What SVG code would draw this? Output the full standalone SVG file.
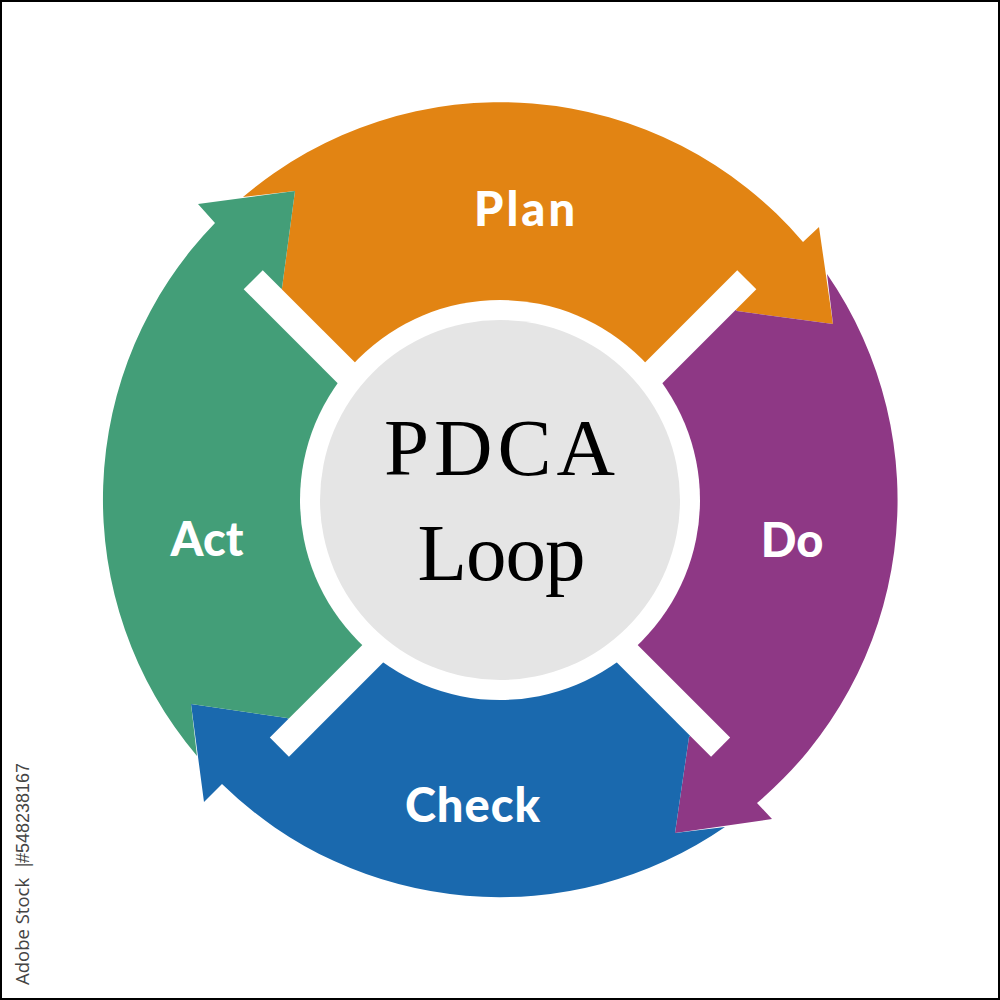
<svg xmlns="http://www.w3.org/2000/svg" width="1000" height="1000" viewBox="0 0 1000 1000">
<style>
.lab{font-family:"Lato","Noto Sans",sans-serif;font-weight:900;font-size:47px;fill:#fff;text-anchor:middle}
.core{font-family:"Liberation Serif","Times New Roman",serif;font-size:81px;fill:#000;text-anchor:middle}
.bar{fill:#fff}
</style>
<rect x="1" y="1" width="998" height="998" fill="#fff" stroke="#000" stroke-width="2"/>
<g id="plan"><path fill="#E28413" d="M500 526.5L275 302L282 288L295 191L243 197A397 397 0 0 1 803 242L819 227L833 324L737 311L725 301Z"/></g>
<g id="do"><path fill="#8E3885" d="M500 526.5L725 301L737 311L833 324L827 274A397 397 0 0 1 757 803L772 819L675 833L689 737L700 727Z"/></g>
<g id="check"><path fill="#1A69AE" d="M500 526.5L700 727L689 737L675 833L725 827A397 397 0 0 1 222 784L204 802L191 704L287 718L301 725Z"/></g>
<g id="act"><path fill="#439E78" d="M500 526.5L301 725L287 718L191 704L197 756A397 397 0 0 1 215 223L198 204L295 191L282 288L275 302Z"/></g>
<g id="connectors">
<rect class="bar" x="-13.5" y="-349" width="27" height="349" transform="translate(500 526.5) rotate(45)"/>
<rect class="bar" x="-13.5" y="-349" width="27" height="349" transform="translate(500 526.5) rotate(-45)"/>
<rect class="bar" x="-13.5" y="0" width="27" height="312" transform="translate(500 526.5) rotate(-45)"/>
<rect class="bar" x="-13.5" y="0" width="27" height="312" transform="translate(500 526.5) rotate(45)"/>
</g>
<g id="center">
<circle cx="500" cy="500" r="200" fill="#fff"/>
<circle cx="500" cy="500" r="180" fill="#E5E5E5"/>
<text class="core" x="502" y="475" letter-spacing="5">PDCA</text>
<text class="core" x="501" y="580" letter-spacing="-1">Loop</text>
</g>
<text class="lab" x="526" y="226" letter-spacing="3">Plan</text>
<text class="lab" x="792" y="557">Do</text>
<text class="lab" x="473" y="822" letter-spacing="1">Check</text>
<text class="lab" x="207" y="556">Act</text>
<g transform="translate(29 985) rotate(-90)" fill="#444">
<text x="0" y="0" font-family="'Open Sans',sans-serif" font-size="18.5">Adobe Stock</text>
<text x="115" y="0" font-family="'Open Sans',sans-serif" font-size="19">|</text>
<text x="122" y="0" font-family="'Liberation Sans',sans-serif" font-size="18.5" textLength="100" lengthAdjust="spacingAndGlyphs">#548238167</text>
</g>
</svg>
